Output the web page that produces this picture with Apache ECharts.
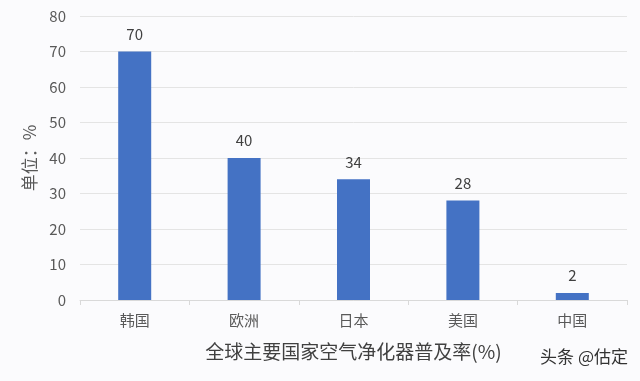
<!DOCTYPE html>
<html><head><meta charset="utf-8">
<script src="https://cdn.jsdelivr.net/npm/echarts@6/dist/echarts.min.js"></script>
<style>html,body{margin:0;padding:0;background:#fbfbfd;}#c{width:640px;height:381px;}</style>
</head><body><div id="c"></div>
<script>
const categories = ['韩国', '欧洲', '日本', '美国', '中国'];
const values = [70, 40, 34, 28, 2];
const yTicks = [0, 10, 20, 30, 40, 50, 60, 70, 80];
const chart = echarts.init(document.getElementById('c'));
const font = '"Noto Sans CJK SC", "Noto Sans", sans-serif';
chart.setOption({
  backgroundColor: '#fbfbfd',
  animation: false,
  grid: { left: 80, right: 13, top: 16, bottom: 81 },
  xAxis: {
    type: 'category', data: categories,
    axisLine: { lineStyle: { color: '#d9d9d9' } },
    axisTick: { show: true, alignWithLabel: false, lineStyle: { color: '#d9d9d9' } },
    axisLabel: { color: '#595959', fontSize: 15, fontFamily: font, margin: 13 },
    name: '全球主要国家空气净化器普及率(%)', nameLocation: 'middle', nameGap: 42,
    nameTextStyle: { color: '#404040', fontSize: 19, fontFamily: font }
  },
  yAxis: {
    type: 'value', min: yTicks[0], max: yTicks[yTicks.length - 1], interval: 10,
    axisLine: { show: false }, axisTick: { show: false },
    splitLine: { lineStyle: { color: '#e4e4e4' } },
    axisLabel: { color: '#595959', fontSize: 15, fontFamily: font, margin: 14 },
    name: '单位：%', nameLocation: 'middle', nameGap: 42, nameRotate: 90,
    nameTextStyle: { color: '#595959', fontSize: 17, fontFamily: font }
  },
  series: [{
    type: 'bar', data: values, barWidth: 33,
    itemStyle: { color: '#4472c4' },
    label: { show: true, position: 'top', distance: 10, color: '#404040', fontSize: 15, fontFamily: font }
  }],
  graphic: [{
    type: 'text', right: 12, bottom: 16,
    style: { text: '头条 @估定', fill: '#333', font: '17px ' + font }
  }]
});
</script></body></html>
